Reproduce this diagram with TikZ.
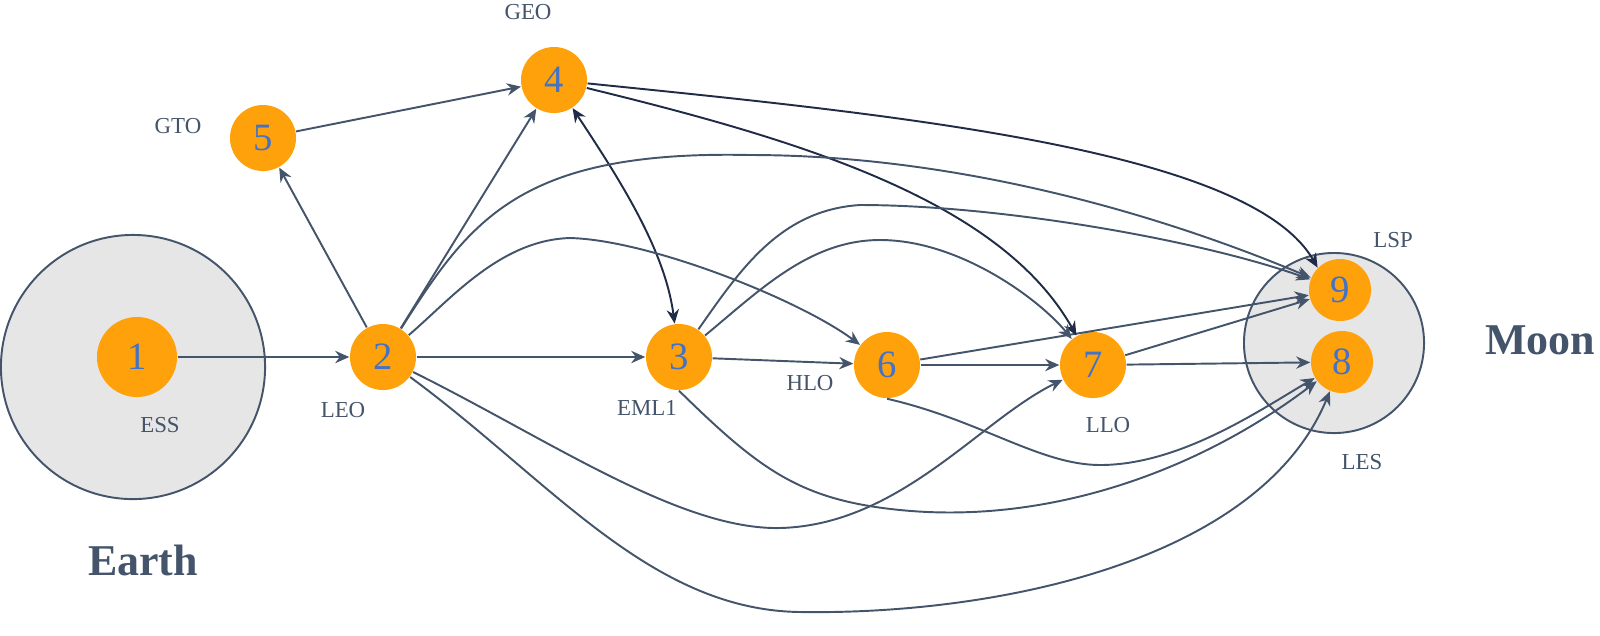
\documentclass[tikz,border=0pt]{standalone}
\usepackage{fontspec}
\setmainfont{Liberation Serif}
\usetikzlibrary{arrows.meta}
\definecolor{org}{HTML}{FFA10A}
\definecolor{slate}{HTML}{44546A}
\definecolor{navy}{HTML}{1F2B47}
\definecolor{numc}{HTML}{4472C4}
\definecolor{bodyc}{HTML}{E7E6E6}
\begin{document}
\begin{tikzpicture}[x=0.01cm,y=-0.01cm,
  sta/.style={circle,fill=org,text=numc,font=\fontsize{11}{11}\selectfont,inner sep=0pt,minimum size=0.66cm},
  lab/.style={text=slate,font=\fontsize{6.5}{6.5}\selectfont},
  big/.style={text=slate,font=\bfseries\fontsize{12.5}{12.5}\selectfont},
  edge/.style={draw=slate,line width=0.55pt,-{Stealth[length=4pt,width=3.5pt]}},
  dedge/.style={draw=navy,line width=0.55pt,-{Stealth[length=4pt,width=3.5pt]}}]
\useasboundingbox (0,0) rectangle (1600,635);
\node[circle,draw=slate,fill=bodyc,line width=0.55pt,minimum size=2.64cm,inner sep=0] (earth) at (133,367) {};
\node[circle,draw=slate,fill=bodyc,line width=0.55pt,minimum size=1.8cm,inner sep=0] (moon) at (1334,343) {};
\node[sta,minimum size=0.8cm] (n1) at (137,357) {1};
\node[sta] (n2) at (383,357) {2};
\node[sta] (n3) at (679,357) {3};
\node[sta] (n4) at (554,80) {4};
\node[sta] (n5) at (263,138) {5};
\node[sta] (n6) at (887,365) {6};
\node[sta] (n7) at (1093,365) {7};
\node[sta,minimum size=0.62cm] (n8) at (1342,362) {8};
\node[sta,minimum size=0.62cm] (n9) at (1340,290) {9};
\node[lab] (lgeo) at (528,12) {GEO};
\node[lab] (lgto) at (178,126) {GTO};
\node[lab] (less) at (160,425) {ESS};
\node[lab] (lleo) at (343,410) {LEO};
\node[lab] (leml) at (647,408) {EML1};
\node[lab] (lhlo) at (810,383) {HLO};
\node[lab] (lllo) at (1108,425) {LLO};
\node[lab] (llsp) at (1393,240) {LSP};
\node[lab] (lles) at (1362,462) {LES};
\node[big] (lmoon) at (1540,340) {Moon};
\node[big] (learth) at (143,560) {Earth};
\draw[edge] (n1) -- (n2);
\draw[edge] (n2) -- (n5);
\draw[edge] (n5) -- (n4);
\draw[edge] (n2) -- (n4);
\draw[edge] (n2) -- (n3);
\draw[edge] (n3) -- (n6);
\draw[edge] (n6) -- (n7);
\draw[edge] (n7) -- (n8);
\draw[edge] (n6) -- (n9);
\draw[edge] (n7) -- (n9);
\draw[dedge] (n4) .. controls (900,115) and (1250,150) .. (n9.north west);
\draw[dedge] (n4) .. controls (800,140) and (1000,200) .. (n7);
\draw[dedge,{Stealth[length=4pt,width=3.5pt]}-{Stealth[length=4pt,width=3.5pt]}] (n4) .. controls (620,180) and (665,250) .. (n3);
\draw[edge] (n2) .. controls (470,220) and (520,150) .. (750,155) .. controls (950,155) and (1150,210) .. (n9);
\draw[edge] (n2) .. controls (450,300) and (500,240) .. (570,238) .. controls (650,240) and (800,300) .. (n6);
\draw[edge] (n3) .. controls (740,270) and (780,210) .. (860,205) .. controls (1000,205) and (1200,240) .. (n9);
\draw[edge] (n3) .. controls (760,290) and (810,240) .. (880,240) .. controls (960,240) and (1040,300) .. (n7);
\draw[edge] (n6.south) .. controls (980,420) and (1040,465) .. (1100,465) .. controls (1180,465) and (1260,410) .. (n8);
\draw[edge] (n3.south) .. controls (760,470) and (800,500) .. (900,510) .. controls (1050,525) and (1200,470) .. (n8);
\draw[edge] (n2) .. controls (550,440) and (680,530) .. (780,528) .. controls (900,525) and (980,420) .. (n7);
\draw[edge] (n2) .. controls (550,480) and (650,610) .. (800,612) .. controls (1000,615) and (1260,560) .. (n8);
\end{tikzpicture}
\end{document}
